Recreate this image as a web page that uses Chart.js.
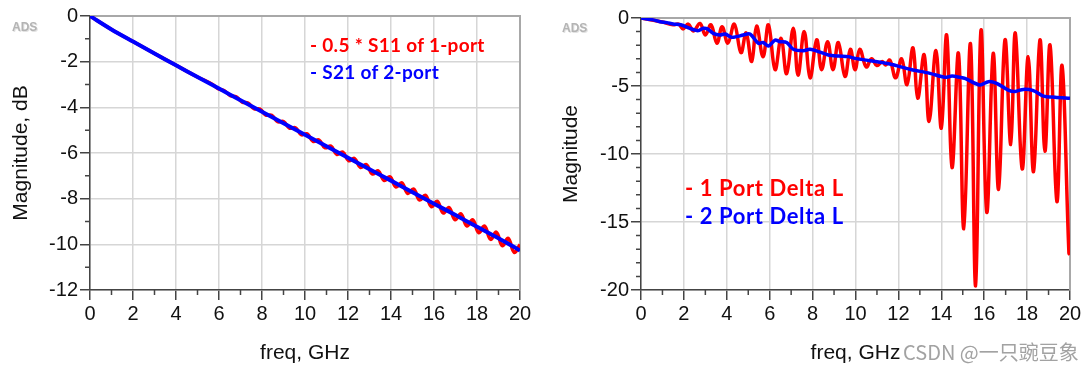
<!DOCTYPE html>
<html>
<head>
<meta charset="utf-8">
<script src="https://cdn.jsdelivr.net/npm/chart.js@4.4.1/dist/chart.umd.min.js"></script>
<style>
  body { margin: 0; background: #fff; width: 1090px; height: 370px; overflow: hidden; position: relative; }
  canvas { position: absolute; top: 0; }
  #left { left: 0; }
  #right { left: 545px; }
  .ads { position: absolute; font: bold 12px "Liberation Sans", Arial, sans-serif; color: #b4b4b4; text-shadow: 1px 1px 0 #e2e2e2; }
  .leg { position: absolute; font-family: Lato, "Open Sans", sans-serif; font-weight: bold; white-space: nowrap; line-height: 1; }
  .mark { position: absolute; left: 903px; top: 340px; font: 20px "Noto Sans CJK SC", sans-serif; color: #a2a2a2; white-space: nowrap; line-height: 1.2; }
</style>
</head>
<body>
<canvas id="left" width="545" height="370"></canvas>
<canvas id="right" width="545" height="370"></canvas>
<div class="ads" style="left:12px;top:20px">ADS</div>
<div class="ads" style="left:562px;top:21px">ADS</div>
<div class="leg" style="left:310px;top:35px;font-size:19px;letter-spacing:0.3px;color:#ff0000">- 0.5 * S11 of 1-port</div>
<div class="leg" style="left:310px;top:62px;font-size:19px;letter-spacing:0.3px;color:#0000ff">- S21 of 2-port</div>
<div class="leg" style="left:685px;top:177px;font-size:22px;letter-spacing:0.6px;color:#ff0000">- 1 Port Delta L</div>
<div class="leg" style="left:685px;top:205px;font-size:22px;letter-spacing:0.6px;color:#0000ff">- 2 Port Delta L</div>
<div class="mark">CSDN @一只豌豆象</div>
<script>
// tick labels
const xTicks = [0, 2, 4, 6, 8, 10, 12, 14, 16, 18, 20];
const leftYTicks = [0, -2, -4, -6, -8, -10, -12];
const rightYTicks = [0, -5, -10, -15, -20];

// left: S21 of 2-port
const s21Freq = [0, 1, 2, 3, 4, 5, 6, 7, 8, 9, 10, 11, 12, 13, 14, 15, 16, 17, 18, 19, 20];
const s21Mag = [0, -0.59, -1.12, -1.64, -2.16, -2.67, -3.18, -3.69, -4.19, -4.70, -5.20, -5.70, -6.21, -6.71, -7.21, -7.72, -8.22, -8.72, -9.23, -9.73, -10.27];

// left: 0.5 * S11 of 1-port
const s11Freq = [0, 1, 2, 3, 4, 5, 5.7, 5.98, 6.25, 6.53, 6.8, 7.08, 7.35, 7.63, 7.9, 8.18, 8.45, 8.73, 9.0, 9.28, 9.55, 9.83,
  10.1, 10.38, 10.65, 10.93, 11.2, 11.48, 11.75, 12.03, 12.3, 12.58, 12.85, 13.13, 13.4, 13.68, 13.95, 14.23, 14.5, 14.78,
  15.05, 15.33, 15.6, 15.88, 16.15, 16.43, 16.7, 16.98, 17.25, 17.53, 17.8, 18.08, 18.35, 18.63, 18.9, 19.18, 19.45, 19.73, 20];
const s11Mag = [0, -0.59, -1.12, -1.64, -2.16, -2.67, -3.00, -3.20, -3.27, -3.49, -3.54, -3.77, -3.81, -4.06, -4.08, -4.34, -4.35, -4.63, -4.62, -4.91, -4.89, -5.20,
  -5.16, -5.49, -5.43, -5.77, -5.70, -6.06, -5.96, -6.34, -6.24, -6.63, -6.51, -6.92, -6.78, -7.20, -7.04, -7.49, -7.31, -7.77,
  -7.58, -8.06, -7.85, -8.35, -8.12, -8.63, -8.39, -8.92, -8.66, -9.20, -8.93, -9.49, -9.20, -9.78, -9.47, -10.06, -9.74, -10.35, -10.01];

// right: 1 Port Delta L
const port1Freq = [0, 0.5, 1.0, 1.5, 1.75, 1.96, 2.2, 2.45, 2.75, 3.0, 3.26, 3.54, 3.78, 4.05, 4.35, 4.66, 4.9, 5.16, 5.39, 5.69,
  5.94, 6.25, 6.53, 6.79, 7.1, 7.32, 7.61, 7.88, 8.19, 8.42, 8.7, 8.95, 9.2, 9.51, 9.76, 9.98, 10.2, 10.5, 10.75, 11.0,
  11.25, 11.4, 11.6, 11.87, 12.15, 12.4, 12.68, 12.9, 13.2, 13.43, 13.75, 14.0, 14.25, 14.5, 14.8, 15.05, 15.36, 15.6, 15.85, 16.12,
  16.42, 16.67, 16.97, 17.24, 17.45, 17.77, 18.05, 18.3, 18.6, 18.83, 19.07, 19.39, 19.63, 19.95, 20];
const port1Mag = [0, -0.15, -0.3, -0.5, -0.45, -0.8, -0.45, -0.95, -0.4, -1.25, -0.5, -1.85, -0.65, -1.85, -0.45, -2.55, -1.1, -3.2, -0.6, -2.85,
  -0.5, -3.8, -1.5, -4.1, -0.76, -4.2, -1.0, -4.4, -1.6, -3.8, -1.74, -3.8, -1.8, -4.3, -2.3, -3.8, -2.3, -3.6, -3.0, -3.5,
  -3.2, -3.45, -3.1, -4.4, -3.0, -4.9, -2.2, -5.9, -2.7, -7.6, -2.4, -8.1, -1.25, -11.0, -2.6, -15.5, -1.9, -19.7, -0.9, -14.3,
  -2.6, -12.6, -1.6, -9.3, -1.1, -11.1, -2.85, -11.3, -1.6, -9.8, -2.0, -13.5, -3.5, -17.3, -17.4];

// right: 2 Port Delta L
const port2Freq = [0, 0.5, 0.89, 1.2, 1.5, 1.85, 2.28, 2.5, 2.67, 2.9, 3.1, 3.37, 3.68, 3.92, 4.23, 4.46, 4.77, 5.08, 5.47, 5.7,
  5.94, 6.25, 6.48, 6.79, 7.1, 7.57, 7.88, 8.27, 8.73, 9.2, 9.66, 9.98, 10.68, 11.6, 12.54, 13.47, 14.17, 14.5, 14.87, 15.1,
  15.8, 16.19, 16.58, 17.12, 17.44, 17.82, 18.29, 18.76, 19.3, 20];
const port2Mag = [0, -0.12, -0.27, -0.34, -0.44, -0.5, -0.76, -0.88, -0.93, -0.76, -0.8, -1.13, -1.25, -1.18, -1.42, -1.37, -1.25, -1.18, -1.86, -1.8,
  -2.06, -1.62, -1.74, -1.8, -2.3, -2.4, -2.3, -2.47, -2.72, -2.8, -2.84, -2.97, -3.14, -3.38, -3.77, -4.07, -4.36, -4.27, -4.36, -4.44,
  -4.93, -4.68, -4.8, -5.3, -5.4, -5.25, -5.34, -5.74, -5.83, -5.9];

function pts(xs, ys) {
  return xs.map(function (x, i) { return { x: x, y: ys[i] }; });
}

// grey frame on top / right and short minor ticks
const framePlugin = {
  id: 'frame',
  beforeDatasetsDraw(chart, args, opts) {
    const ctx = chart.ctx, a = chart.chartArea, x = chart.scales.x, y = chart.scales.y;
    ctx.save();
    ctx.strokeStyle = '#a8a8a8';
    ctx.lineWidth = 2;
    ctx.beginPath();
    ctx.moveTo(a.left, a.top);
    ctx.lineTo(a.right, a.top);
    ctx.lineTo(a.right, a.bottom);
    ctx.stroke();
    ctx.strokeStyle = '#444';
    ctx.lineWidth = 1.5;
    ctx.beginPath();
    for (let v = x.min + 1; v < x.max; v += 2) {
      const px = x.getPixelForValue(v);
      ctx.moveTo(px, a.bottom);
      ctx.lineTo(px, a.bottom + 5);
    }
    for (let v = y.min; v < y.max; v += 1) {
      if (v % opts.yStep === 0) continue;
      const py = y.getPixelForValue(v);
      ctx.moveTo(a.left, py);
      ctx.lineTo(a.left - 5, py);
    }
    ctx.stroke();
    ctx.restore();
  }
};

function makeChart(id, datasets, yTicks, yStep, yTitle, pad, yWidth, yTitlePad) {
  return new Chart(document.getElementById(id), {
    type: 'line',
    data: { datasets: datasets },
    plugins: [framePlugin],
    options: {
      responsive: false,
      animation: false,
      devicePixelRatio: 1,
      layout: { padding: pad },
      elements: { point: { radius: 0 } },
      plugins: { legend: { display: false }, tooltip: { enabled: false }, frame: { yStep: yStep } },
      scales: {
        x: {
          type: 'linear', min: 0, max: 20,
          afterBuildTicks: function (s) { s.ticks = xTicks.map(function (v) { return { value: v }; }); },
          afterFit: function (s) { s.height = 80; },
          grid: { color: '#d6d6d6', lineWidth: 1.5, tickColor: '#444', tickLength: 10, tickWidth: 1.5 },
          border: { color: '#444', width: 1.5 },
          ticks: { color: '#111', font: { family: '"Liberation Sans", Arial', size: 20 }, padding: 2, maxRotation: 0,
            callback: function (v) { return String(v); } },
          title: { display: true, text: 'freq, GHz', color: '#111', font: { family: '"Liberation Sans", Arial', size: 21 }, padding: { top: 0, bottom: 4 } }
        },
        y: {
          min: yTicks[yTicks.length - 1], max: yTicks[0],
          afterBuildTicks: function (s) { s.ticks = yTicks.slice().reverse().map(function (v) { return { value: v }; }); },
          afterFit: function (s) { s.width = yWidth; },
          grid: { color: '#d6d6d6', lineWidth: 1.5, tickColor: '#444', tickLength: 10, tickWidth: 1.5 },
          border: { color: '#444', width: 1.5 },
          ticks: { color: '#111', font: { family: '"Liberation Sans", Arial', size: 20 }, padding: 2,
            callback: function (v) { return String(v); } },
          title: { display: true, text: yTitle, color: '#111', font: { family: '"Liberation Sans", Arial', size: 21 }, padding: { top: yTitlePad, bottom: 0 } }
        }
      }
    }
  });
}

makeChart('left', [
  { data: pts(s21Freq, s21Mag), borderColor: '#0000ff', borderWidth: 4, tension: 0.3 },
  { data: pts(s11Freq, s11Mag), borderColor: '#ff0000', borderWidth: 3.5, tension: 0.4 }
], leftYTicks, 2, 'Magnitude, dB', { top: 16, right: 25, left: 0, bottom: 0 }, 90, 9);

makeChart('right', [
  { data: pts(port2Freq, port2Mag), borderColor: '#0000ff', borderWidth: 3.5, tension: 0.3 },
  { data: pts(port1Freq, port1Mag), borderColor: '#ff0000', borderWidth: 3.5, tension: 0.4 }
], rightYTicks, 5, 'Magnitude', { top: 18, right: 20, left: 0, bottom: 0 }, 96, 14);
</script>
</body>
</html>
